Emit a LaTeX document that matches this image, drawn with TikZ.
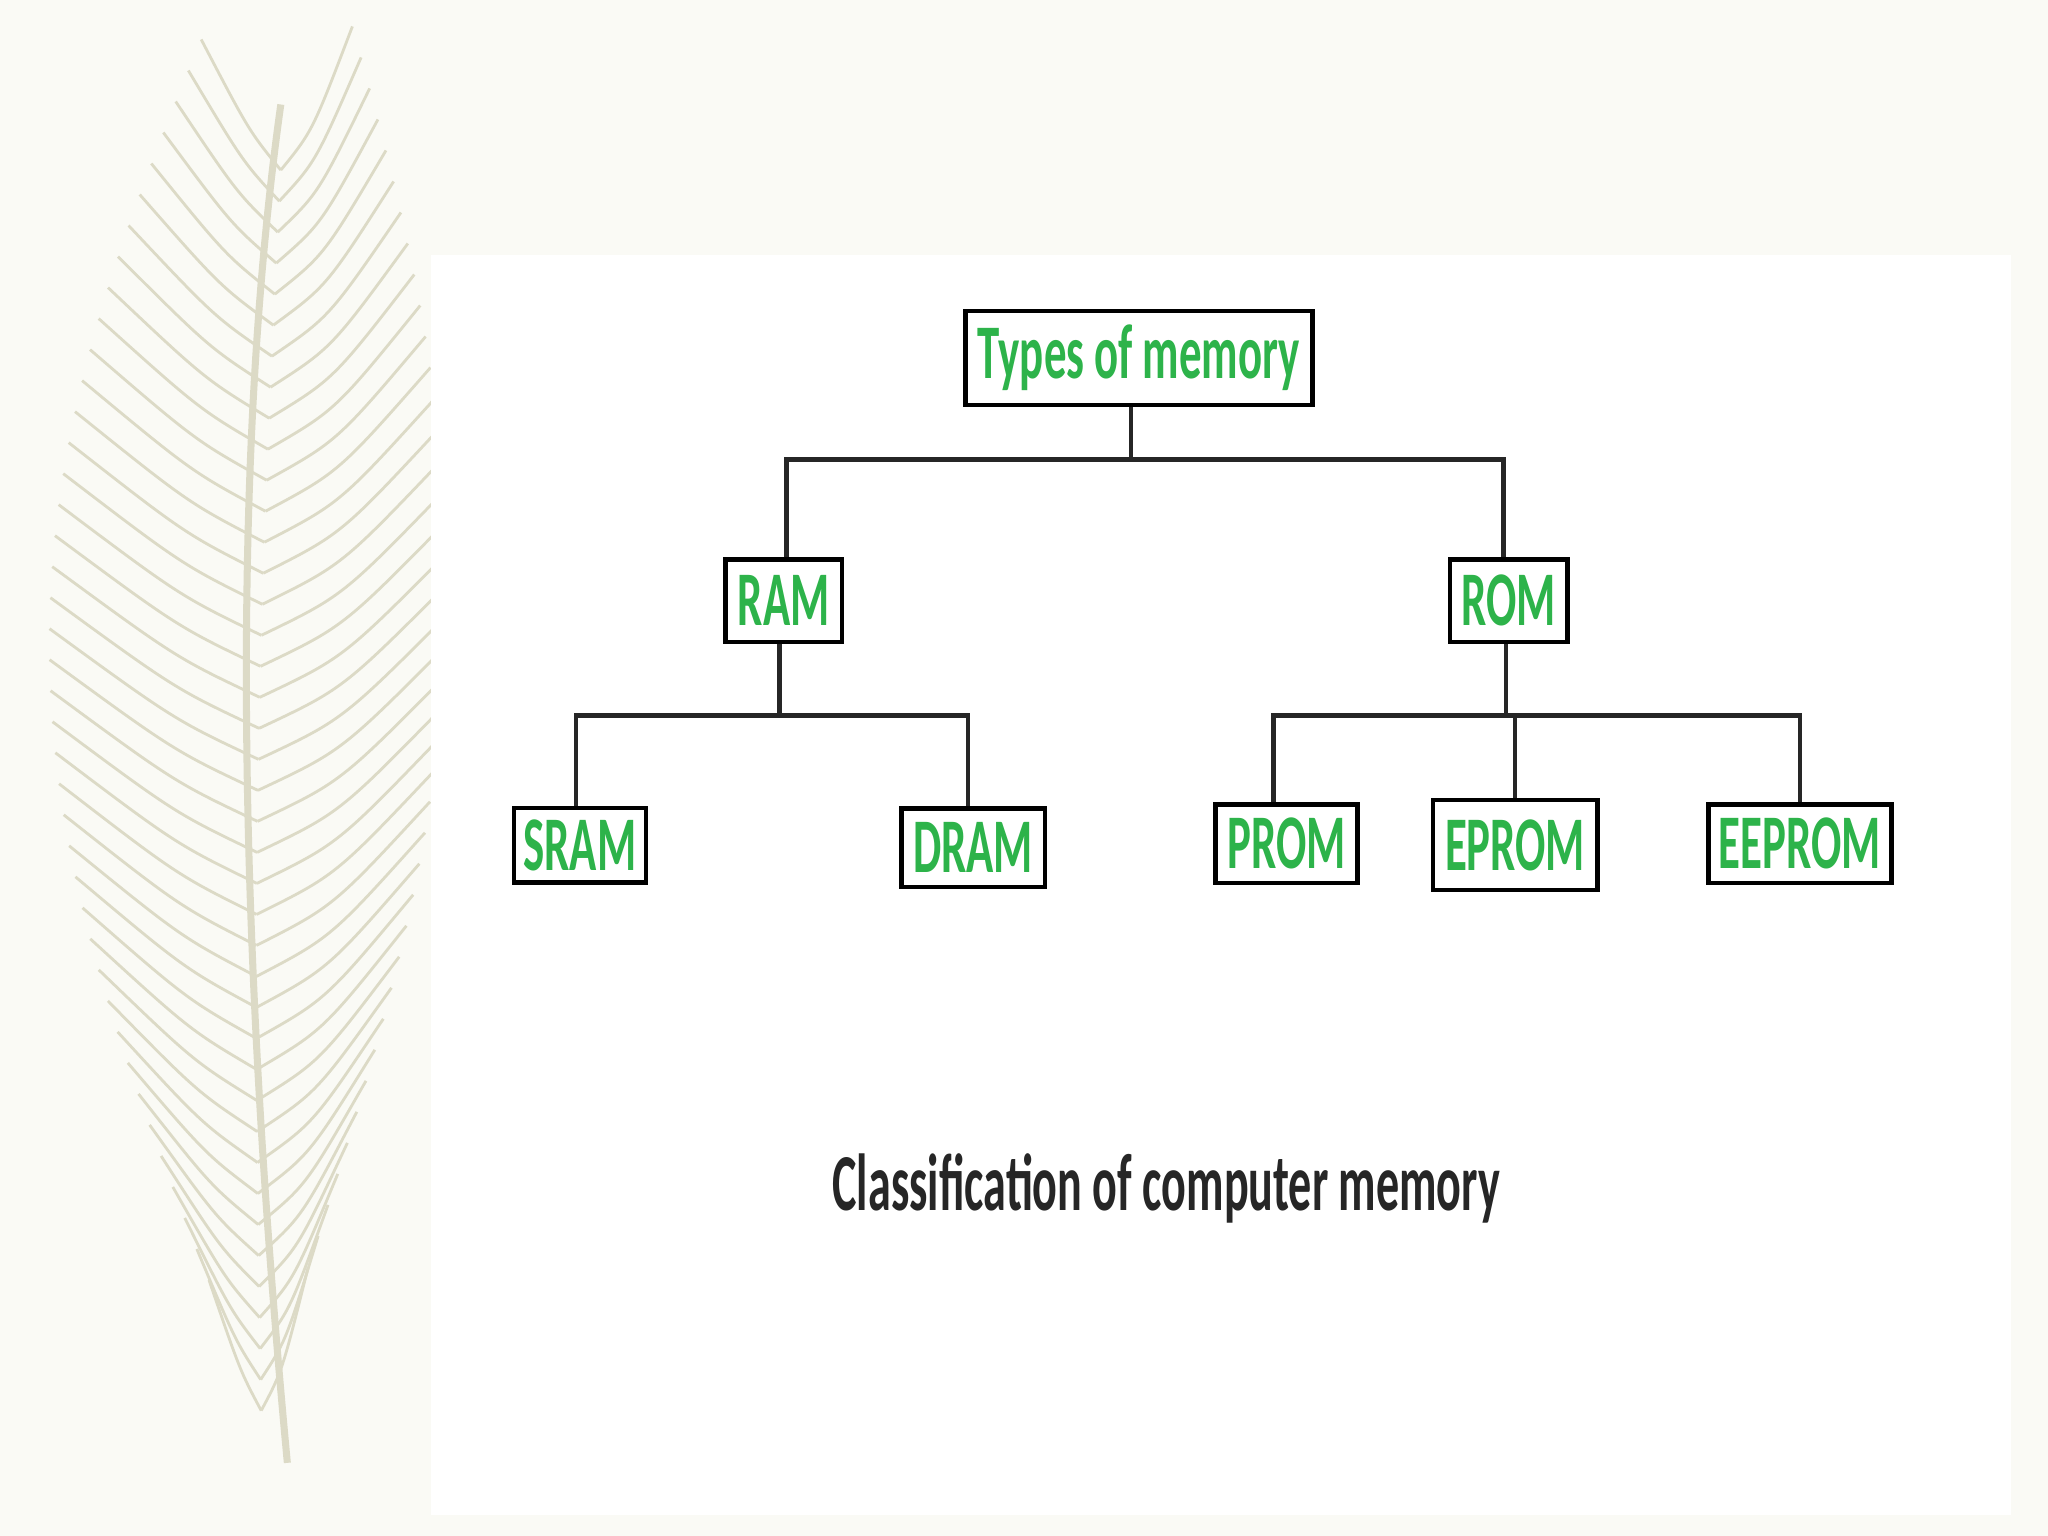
\documentclass[tikz,border=0pt]{standalone}
\usepackage{fontspec}
\setmainfont{Carlito}
\newfontfamily\narrowfont[FakeStretch=0.58]{Carlito}
\newfontfamily\capfont[FakeStretch=0.57]{Carlito}
\begin{document}
\begin{tikzpicture}[x=0.013061cm,y=-0.013061cm,
  box/.style={draw=black,line width=1.3pt,fill=white,inner sep=0pt,text=mygreen,font=\narrowfont\fontsize{22}{24}\selectfont\bfseries},
  con/.style={line width=1.3pt,draw=black!85},
  barb/.style={draw=black!12!white!90!olive,line width=0.8pt}]
\definecolor{mygreen}{HTML}{2DB34A}
\def\px{0.3716pt}
\useasboundingbox (0,0) rectangle (1568,1176);
\fill[fill={rgb,255:red,250;green,250;blue,245}] (0,0) rectangle (1568,1176);
% feather
\begin{scope}
\draw[barb,line width=2pt] (220,1120) .. controls (190,800) and (170,400) .. (215,80);
\foreach \t in {0,0.025,...,1}{
  \pgfmathsetmacro{\yy}{1080-\t*950}
  \pgfmathsetmacro{\xx}{200-10*sin(\t*180)+\t*15}
  \pgfmathsetmacro{\w}{40+120*sin(\t*170)}
  \draw[barb] (\xx,\yy) .. controls (\xx-\w*0.4,\yy-30) .. (\xx-\w,\yy-100);
  \draw[barb] (\xx,\yy) .. controls (\xx+\w*0.4,\yy-30) .. (\xx+\w*0.9,\yy-110);
}
\end{scope}
\fill[white] (330,195) rectangle (1540,1160);
% nodes
\node[box,minimum width=266*\px,minimum height=72*\px] (top) at (872,274) {Types of memory};
\node[box,minimum width=89*\px,minimum height=63*\px] (ram) at (600,460) {RAM};
\node[box,minimum width=90*\px,minimum height=63*\px] (rom) at (1155,460) {ROM};
\node[box,minimum width=101*\px,minimum height=57*\px] (sram) at (444,647) {SRAM};
\node[box,minimum width=110*\px,minimum height=60*\px] (dram) at (745,649) {DRAM};
\node[box,minimum width=109*\px,minimum height=60*\px] (prom) at (985,646) {PROM};
\node[box,minimum width=126*\px,minimum height=69*\px] (eprom) at (1160,647) {EPROM};
\node[box,minimum width=140*\px,minimum height=60*\px] (eeprom) at (1378,646) {EEPROM};
\coordinate (b1) at (866,352);
\coordinate (b2) at (597,548);
\coordinate (b3) at (1153,548);
\draw[con] (top.south -| b1) -- (b1);
\draw[con] (ram.north -| 602,0) |- (b1) -| (rom.north -| 1151,0);
\draw[con] (ram.south -| b2) -- (b2);
\draw[con] (sram.north -| 441,0) |- (b2) -| (dram.north -| 741,0);
\draw[con] (rom.south -| b3) -- (b3);
\draw[con] (prom.north -| 975,0) |- (b3) -| (eeprom.north -| 1378,0);
\draw[con] (b3 -| eprom.north) -- (eprom.north);
\node[font=\capfont\fontsize{23}{25}\selectfont\bfseries,text=black!85] (cap) at (893,910) {Classification of computer memory};
\end{tikzpicture}
\end{document}
